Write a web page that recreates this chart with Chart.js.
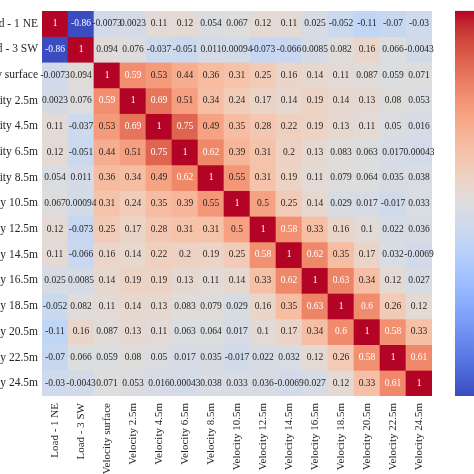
<!DOCTYPE html>
<html><head><meta charset="utf-8">
<script src="https://cdn.jsdelivr.net/npm/chart.js@4"></script>
<style>html,body{margin:0;padding:0;background:#fff}#wrap{width:474px;height:474px}</style>
</head><body><div id="wrap"><canvas id="c" width="474" height="474"></canvas></div>
<script>
const labels = ["Load - 1 NE","Load - 3 SW","Velocity surface","Velocity 2.5m","Velocity 4.5m","Velocity 6.5m","Velocity 8.5m","Velocity 10.5m","Velocity 12.5m","Velocity 14.5m","Velocity 16.5m","Velocity 18.5m","Velocity 20.5m","Velocity 22.5m","Velocity 24.5m"];
const rowLoad1NE = [1,-0.86,-0.0073,0.0023,0.11,0.12,0.054,0.067,0.12,0.11,0.025,-0.052,-0.11,-0.07,-0.03];
const rowLoad3SW = [-0.86,1,0.094,0.076,-0.037,-0.051,0.011,0.00094,-0.073,-0.066,0.0085,0.082,0.16,0.066,-0.0043];
const rowVsurf = [-0.0073,0.094,1,0.59,0.53,0.44,0.36,0.31,0.25,0.16,0.14,0.11,0.087,0.059,0.071];
const rowV2_5 = [0.0023,0.076,0.59,1,0.69,0.51,0.34,0.24,0.17,0.14,0.19,0.14,0.13,0.08,0.053];
const rowV4_5 = [0.11,-0.037,0.53,0.69,1,0.75,0.49,0.35,0.28,0.22,0.19,0.13,0.11,0.05,0.016];
const rowV6_5 = [0.12,-0.051,0.44,0.51,0.75,1,0.62,0.39,0.31,0.2,0.13,0.083,0.063,0.017,0.00043];
const rowV8_5 = [0.054,0.011,0.36,0.34,0.49,0.62,1,0.55,0.31,0.19,0.11,0.079,0.064,0.035,0.038];
const rowV10_5 = [0.067,0.00094,0.31,0.24,0.35,0.39,0.55,1,0.5,0.25,0.14,0.029,0.017,-0.017,0.033];
const rowV12_5 = [0.12,-0.073,0.25,0.17,0.28,0.31,0.31,0.5,1,0.58,0.33,0.16,0.1,0.022,0.036];
const rowV14_5 = [0.11,-0.066,0.16,0.14,0.22,0.2,0.19,0.25,0.58,1,0.62,0.35,0.17,0.032,-0.0069];
const rowV16_5 = [0.025,0.0085,0.14,0.19,0.19,0.13,0.11,0.14,0.33,0.62,1,0.63,0.34,0.12,0.027];
const rowV18_5 = [-0.052,0.082,0.11,0.14,0.13,0.083,0.079,0.029,0.16,0.35,0.63,1,0.6,0.26,0.12];
const rowV20_5 = [-0.11,0.16,0.087,0.13,0.11,0.063,0.064,0.017,0.1,0.17,0.34,0.6,1,0.58,0.33];
const rowV22_5 = [-0.07,0.066,0.059,0.08,0.05,0.017,0.035,-0.017,0.022,0.032,0.12,0.26,0.58,1,0.61];
const rowV24_5 = [-0.03,-0.0043,0.071,0.053,0.016,0.00043,0.038,0.033,0.036,-0.0069,0.027,0.12,0.33,0.61,1];
const matrix = [rowLoad1NE,rowLoad3SW,rowVsurf,rowV2_5,rowV4_5,rowV6_5,rowV8_5,rowV10_5,rowV12_5,rowV14_5,rowV16_5,rowV18_5,rowV20_5,rowV22_5,rowV24_5];
const vmin = -0.86, vmax = 1;

const cw = [[59,76,192],[68,90,204],[77,104,215],[87,117,225],[98,130,234],[108,142,241],[119,154,247],[130,165,251],[141,176,254],[152,185,255],[163,194,255],[174,201,253],[184,208,249],[194,213,244],[204,217,238],[213,219,230],[221,221,221],[229,216,209],[236,211,197],[241,204,184],[245,196,172],[247,187,160],[247,177,148],[247,166,135],[244,154,123],[241,141,111],[236,127,99],[229,112,89],[222,96,77],[213,80,66],[203,62,56],[192,40,47],[180,4,38]];
function cmap(t){
  t = Math.max(0, Math.min(1, t));
  const p = t*(cw.length-1), i = Math.min(Math.floor(p), cw.length-2), f = p-i;
  return cw[i].map((c,k)=>Math.round(c+(cw[i+1][k]-c)*f));
}
function colorOf(v){ const c = cmap((v-vmin)/(vmax-vmin)); return `rgb(${c[0]},${c[1]},${c[2]})`; }
function lum(v){
  const c = cmap((v-vmin)/(vmax-vmin)).map(x=>{x/=255;return x<=0.03928?x/12.92:Math.pow((x+0.055)/1.055,2.4);});
  return 0.2126*c[0]+0.7152*c[1]+0.0722*c[2];
}
function fmt(v){ return Number(v.toPrecision(2)).toString(); }

const FONT = "'Liberation Serif', 'DejaVu Serif', serif";

const datasets = matrix.map((row, r) => ({
  label: labels[r],
  data: row.map(() => [r, r+1]),
  values: row,
  backgroundColor: row.map(colorOf),
  borderWidth: 0,
  categoryPercentage: 1,
  barPercentage: 1,
  grouped: false
}));

const annot = {
  id: 'annot',
  afterDatasetsDraw(chart){
    const ctx = chart.ctx;
    ctx.save();
    ctx.font = "9.5px " + FONT;
    ctx.textAlign = 'center';
    ctx.textBaseline = 'middle';
    chart.data.datasets.forEach((ds, di) => {
      const meta = chart.getDatasetMeta(di);
      meta.data.forEach((el, j) => {
        const v = ds.values[j];
        ctx.fillStyle = lum(v) > 0.408 ? '#262626' : '#ffffff';
        ctx.fillText(fmt(v), el.x, (el.y + el.base)/2);
      });
    });
    ctx.restore();
  }
};

const colorbar = {
  id: 'colorbar',
  afterDraw(chart){
    const ctx = chart.ctx, a = chart.chartArea;
    const x0 = 455, w = 30;
    const g = ctx.createLinearGradient(0, a.bottom, 0, a.top);
    for (let i = 0; i < cw.length; i++) {
      const c = cw[i];
      g.addColorStop(i/(cw.length-1), `rgb(${c[0]},${c[1]},${c[2]})`);
    }
    ctx.save();
    ctx.fillStyle = g;
    ctx.fillRect(x0, a.top, w, a.bottom - a.top);
    ctx.restore();
  }
};

new Chart(document.getElementById('c'), {
  type: 'bar',
  data: { labels: labels, datasets: datasets },
  options: {
    responsive: false,
    animation: false,
    layout: { padding: { top: 8, right: 42, left: 0, bottom: 0 } },
    plugins: { legend: { display: false }, tooltip: { enabled: false } },
    scales: {
      x: {
        type: 'category',
        offset: true,
        grid: { display: false, drawTicks: false },
        border: { display: false },
        ticks: { autoSkip: false, minRotation: 90, maxRotation: 90, padding: 7, color: '#262626', font: { family: FONT, size: 11 } },
        afterFit(s){ s.height = 78; }
      },
      y: {
        type: 'linear',
        min: 0, max: 15, reverse: true,
        grid: { display: false, drawTicks: false },
        border: { display: false },
        afterBuildTicks(s){ s.ticks = labels.map((l, i) => ({ value: i + 0.5 })); },
        ticks: { autoSkip: false, padding: 4, color: '#262626', font: { family: FONT, size: 11.5 },
          callback(v){ return labels[Math.floor(v)]; } },
        afterFit(s){ s.width = 42; }
      }
    }
  },
  plugins: [annot, colorbar]
});
</script></body></html>
